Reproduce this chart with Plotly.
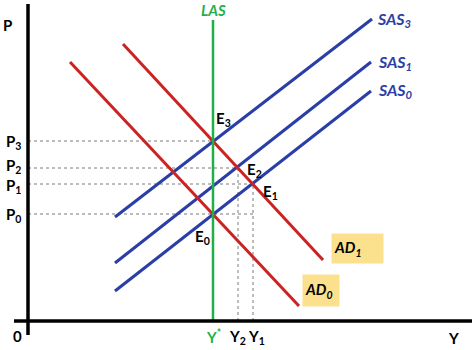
import plotly.graph_objects as go

# Data (units: origin at axis corner)
y_star = 18.5
y2, y1 = 21.0, 22.5
p0, p1, p2, p3 = 10.7, 13.7, 15.3, 18.0

sas0_x = [8.7, 34.3]; sas0_y = [3.0, 23.0]
sas1_x = [8.7, 34.3]; sas1_y = [5.8, 25.9]
sas3_x = [8.7, 34.4]; sas3_y = [10.4, 30.2]
ad0_x = [4.2, 27.1]; ad0_y = [25.9, 1.5]
ad1_x = [9.5, 29.5]; ad1_y = [27.7, 6.1]
las_y = [0, 30.1]

BLUE = "#2b3ea6"
RED = "#cc2222"
GREEN = "#1fb04a"
GRAY = "#7a7a7a"
FONT = "Lato"

fig = go.Figure()

# dotted guide lines
guides = [
    ([0, y_star], [p3, p3]),
    ([0, y2], [p2, p2]),
    ([0, y1], [p1, p1]),
    ([0, y1], [p0, p0]),
    ([y2, y2], [0, p2]),
    ([y1, y1], [0, p1]),
]
for gx, gy in guides:
    fig.add_trace(go.Scatter(x=gx, y=gy, mode="lines",
                             line=dict(color=GRAY, width=1, dash="dot"),
                             hoverinfo="skip", showlegend=False))

for xs, ys in [(sas0_x, sas0_y), (sas1_x, sas1_y), (sas3_x, sas3_y)]:
    fig.add_trace(go.Scatter(x=xs, y=ys, mode="lines",
                             line=dict(color=BLUE, width=3), showlegend=False))
for xs, ys in [(ad0_x, ad0_y), (ad1_x, ad1_y)]:
    fig.add_trace(go.Scatter(x=xs, y=ys, mode="lines",
                             line=dict(color=RED, width=3), showlegend=False))
fig.add_trace(go.Scatter(x=[y_star, y_star], y=las_y, mode="lines",
                         line=dict(color=GREEN, width=2.5), showlegend=False))

# axes
fig.add_shape(type="line", x0=0, x1=0, y0=-1.4, y1=31.7,
              line=dict(color="black", width=3.5), layer="above")
fig.add_shape(type="line", x0=-1.4, x1=44.4, y0=0, y1=0,
              line=dict(color="black", width=3.5), layer="above")

ann = []
def txt(x, y, t, color="black", size=15, italic=False, xanchor="center", **kw):
    s = f"<b>{t}</b>"
    if italic:
        s = f"<i>{s}</i>"
    ann.append(dict(x=x, y=y, xref="x", yref="y", text=s, showarrow=False,
                    font=dict(family=FONT, size=size, color=color),
                    xanchor=xanchor, yanchor="middle", **kw))

txt(y_star, 31.1, "LAS", GREEN, 15, True)
txt(34.7, 30.2, "SAS<sub>3</sub>", BLUE, 16, True, "left")
txt(34.8, 25.9, "SAS<sub>1</sub>", BLUE, 16, True, "left")
txt(34.8, 23.1, "SAS<sub>0</sub>", BLUE, 16, True, "left")
txt(-2.1, 29.6, "P", size=15)
txt(-0.5, 17.9, "P<sub>3</sub>", xanchor="right")
txt(-0.5, 15.5, "P<sub>2</sub>", xanchor="right")
txt(-0.5, 13.5, "P<sub>1</sub>", xanchor="right")
txt(-0.5, 10.6, "P<sub>0</sub>", xanchor="right")
txt(-1.1, -1.5, "0")
txt(42.5, -1.7, "Y")
txt(y_star, -1.5, "Y<sup>*</sup>", GREEN)
txt(20.9, -1.6, "Y<sub>2</sub>")
txt(22.8, -1.6, "Y<sub>1</sub>")
txt(19.5, 20.2, "E<sub>3</sub>")
txt(22.6, 15.1, "E<sub>2</sub>")
txt(24.2, 12.9, "E<sub>1</sub>")
txt(17.4, 8.4, "E<sub>0</sub>")

for x, y, t, w, h in [(32.9, 7.3, "AD<sub>1</sub>", 47, 25), (29.3, 3.1, "AD<sub>0</sub>", 32, 27)]:
    ann.append(dict(x=x, y=y, xref="x", yref="y", text=f"<i><b>{t}</b></i>",
                    showarrow=False, bgcolor="#fbe08e", borderpad=2,
                    width=w, height=h, align="left", valign="middle",
                    font=dict(family=FONT, size=15, color="black"),
                    xanchor="center", yanchor="middle"))

fig.update_layout(
    width=474, height=350, margin=dict(l=0, r=0, t=0, b=0),
    paper_bgcolor="white", plot_bgcolor="white",
    xaxis=dict(range=[-2.8, 44.6], visible=False, fixedrange=True),
    yaxis=dict(range=[-2.9, 32.1], visible=False, fixedrange=True),
    annotations=ann, showlegend=False,
)
fig.write_html("out.html")
